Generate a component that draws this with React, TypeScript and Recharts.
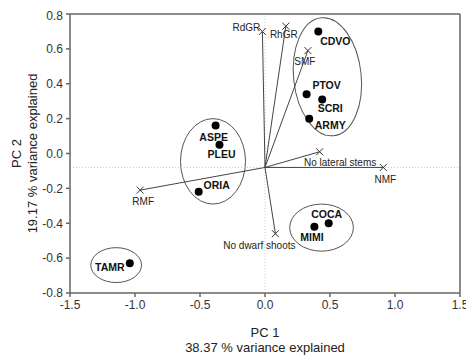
import React from 'react';
import {
  ScatterChart,
  Scatter,
  XAxis,
  YAxis,
  ReferenceLine,
  ReferenceArea,
  Label,
} from 'recharts';

// sites (PCA scores)
const siteNames = ['CDVO', 'PTOV', 'SCRI', 'ARMY', 'ASPE', 'PLEU', 'ORIA', 'TAMR', 'COCA', 'MIMI'];
const siteX = [0.41, 0.32, 0.44, 0.34, -0.38, -0.35, -0.51, -1.04, 0.49, 0.38];
const siteY = [0.70, 0.34, 0.31, 0.20, 0.16, 0.05, -0.22, -0.63, -0.40, -0.42];

// trait loadings (vectors from the origin)
const traitNames = ['RdGR', 'RhGR', 'SMF', 'No lateral stems', 'NMF', 'No dwarf shoots', 'RMF'];
const traitX = [-0.02, 0.16, 0.33, 0.42, 0.91, 0.08, -0.96];
const traitY = [0.70, 0.73, 0.59, 0.01, -0.08, -0.46, -0.21];
const vectorOrigin = { x: 0, y: -0.08 };

// group ellipses, bounding boxes in data units
const groupX1 = [0.22, -0.65, 0.19, -1.34];
const groupX2 = [0.74, -0.15, 0.68, -0.95];
const groupY1 = [0.78, 0.2, -0.29, -0.54];
const groupY2 = [0.1, -0.29, -0.56, -0.74];
const groupTilt = [-6, 0, 0, 0];

const xTicks = [-1.5, -1.0, -0.5, 0.0, 0.5, 1.0, 1.5];
const yTicks = [-0.8, -0.6, -0.4, -0.2, 0.0, 0.2, 0.4, 0.6, 0.8];

const siteData = siteNames.map((name, i) => ({ name, x: siteX[i], y: siteY[i] }));
const traitData = traitNames.map((name, i) => ({ name, x: traitX[i], y: traitY[i] }));

// label offsets (px) from the mark
const siteLabelPos: Record<string, [number, number]> = {
  CDVO: [17, 10],
  PTOV: [20, -9],
  SCRI: [8, 9],
  ARMY: [21, 6],
  ASPE: [-2, 11],
  PLEU: [2, 9.5],
  ORIA: [18, -7],
  TAMR: [-20, 3.5],
  COCA: [-2, -9],
  MIMI: [-2.5, 10.5],
};
const traitLabelPos: Record<string, [number, number]> = {
  RdGR: [-16, -4],
  RhGR: [-2, 8.5],
  SMF: [-3, 11],
  'No lateral stems': [20.5, 11],
  NMF: [2, 12],
  'No dwarf shoots': [-16, 12],
  RMF: [3, 11],
};

const FONT = "Arial, 'Liberation Sans', sans-serif";
const AXIS = '#666';

const SiteDot = (props: any) => {
  const { cx, cy, payload } = props;
  const [dx, dy] = siteLabelPos[payload.name] || [0, 10];
  return (
    <g>
      <circle cx={cx} cy={cy} r={4} fill="#000" />
      <text
        x={cx + dx}
        y={cy + dy}
        textAnchor="middle"
        dominantBaseline="central"
        fontFamily={FONT}
        fontWeight="bold"
        fontSize={10.5}
        fill="#111"
      >
        {payload.name}
      </text>
    </g>
  );
};

const TraitCross = (props: any) => {
  const { cx, cy, payload } = props;
  const [dx, dy] = traitLabelPos[payload.name] || [0, 10];
  const s = 3.5;
  return (
    <g>
      <path
        d={`M${cx - s},${cy - s}L${cx + s},${cy + s}M${cx - s},${cy + s}L${cx + s},${cy - s}`}
        stroke="#333"
        strokeWidth={1}
      />
      <text
        x={cx + dx}
        y={cy + dy}
        textAnchor="middle"
        dominantBaseline="central"
        fontFamily={FONT}
        fontSize={10}
        fill="#222"
      >
        {payload.name}
      </text>
    </g>
  );
};

const ellipseShape = (tilt: number) => (props: any) => {
  const { x, y, width, height } = props;
  const cx = x + width / 2;
  const cy = y + height / 2;
  return (
    <ellipse
      cx={cx}
      cy={cy}
      rx={Math.abs(width) / 2}
      ry={Math.abs(height) / 2}
      fill="none"
      stroke="#555"
      strokeWidth={1}
      transform={`rotate(${tilt}, ${cx}, ${cy})`}
    />
  );
};

const XTitle = (props: any) => {
  const { x, y, width } = props.viewBox;
  const cx = x + width / 2;
  return (
    <g fontFamily={FONT} fontSize={13} fill="#222">
      <text x={cx} y={y + 39} textAnchor="middle" dominantBaseline="central">PC 1</text>
      <text x={cx} y={y + 54} textAnchor="middle" dominantBaseline="central">38.37 % variance explained</text>
    </g>
  );
};

const YTitle = (props: any) => {
  const { x, y, height } = props.viewBox;
  const cy = y + height / 2;
  const x1 = x - 4;
  const x2 = x + 12;
  return (
    <g fontFamily={FONT} fontSize={13} fill="#222">
      <text x={x1} y={cy} textAnchor="middle" dominantBaseline="central" transform={`rotate(-90, ${x1}, ${cy})`}>
        PC 2
      </text>
      <text x={x2} y={cy} textAnchor="middle" dominantBaseline="central" transform={`rotate(-90, ${x2}, ${cy})`}>
        19.17 % variance explained
      </text>
    </g>
  );
};

export default function App() {
  return (
    <ScatterChart width={466} height={347} margin={{ top: 6, right: 14, bottom: 32, left: 12 }}>
      <XAxis
        type="number"
        dataKey="x"
        domain={[-1.5, 1.5]}
        ticks={xTicks}
        tickFormatter={(v: number) => v.toFixed(1)}
        allowDataOverflow
        height={30}
        stroke={AXIS}
        strokeWidth={1.5}
        tickSize={4}
        tickMargin={3}
        tick={{ fontSize: 12, fill: '#333', fontFamily: FONT }}
      >
        <Label content={<XTitle />} />
      </XAxis>
      <YAxis
        type="number"
        dataKey="y"
        domain={[-0.8, 0.8]}
        ticks={yTicks}
        tickFormatter={(v: number) => v.toFixed(1)}
        allowDataOverflow
        width={50}
        stroke={AXIS}
        strokeWidth={1.5}
        tickSize={4}
        tickMargin={3}
        tick={{ fontSize: 12, fill: '#333', fontFamily: FONT }}
      >
        <Label content={<YTitle />} />
      </YAxis>

      {/* frame */}
      <ReferenceLine y={0.8} stroke={AXIS} strokeWidth={1.5} />
      <ReferenceLine x={1.5} stroke={AXIS} strokeWidth={1.5} />

      {/* dotted zero lines */}
      <ReferenceLine x={vectorOrigin.x} stroke="#c8c8c8" strokeDasharray="1 2" />
      <ReferenceLine y={vectorOrigin.y} stroke="#c8c8c8" strokeDasharray="1 2" />

      {groupX1.map((x1, i) => (
        <ReferenceArea
          key={`grp-${i}`}
          x1={x1}
          x2={groupX2[i]}
          y1={groupY1[i]}
          y2={groupY2[i]}
          ifOverflow="visible"
          shape={ellipseShape(groupTilt[i])}
        />
      ))}

      {traitData.map((t) => (
        <ReferenceLine
          key={`vec-${t.name}`}
          segment={[vectorOrigin, { x: t.x, y: t.y }]}
          stroke="#444"
          strokeWidth={1}
        />
      ))}

      <Scatter data={traitData} shape={<TraitCross />} isAnimationActive={false} />
      <Scatter data={siteData} shape={<SiteDot />} isAnimationActive={false} />
    </ScatterChart>
  );
}
